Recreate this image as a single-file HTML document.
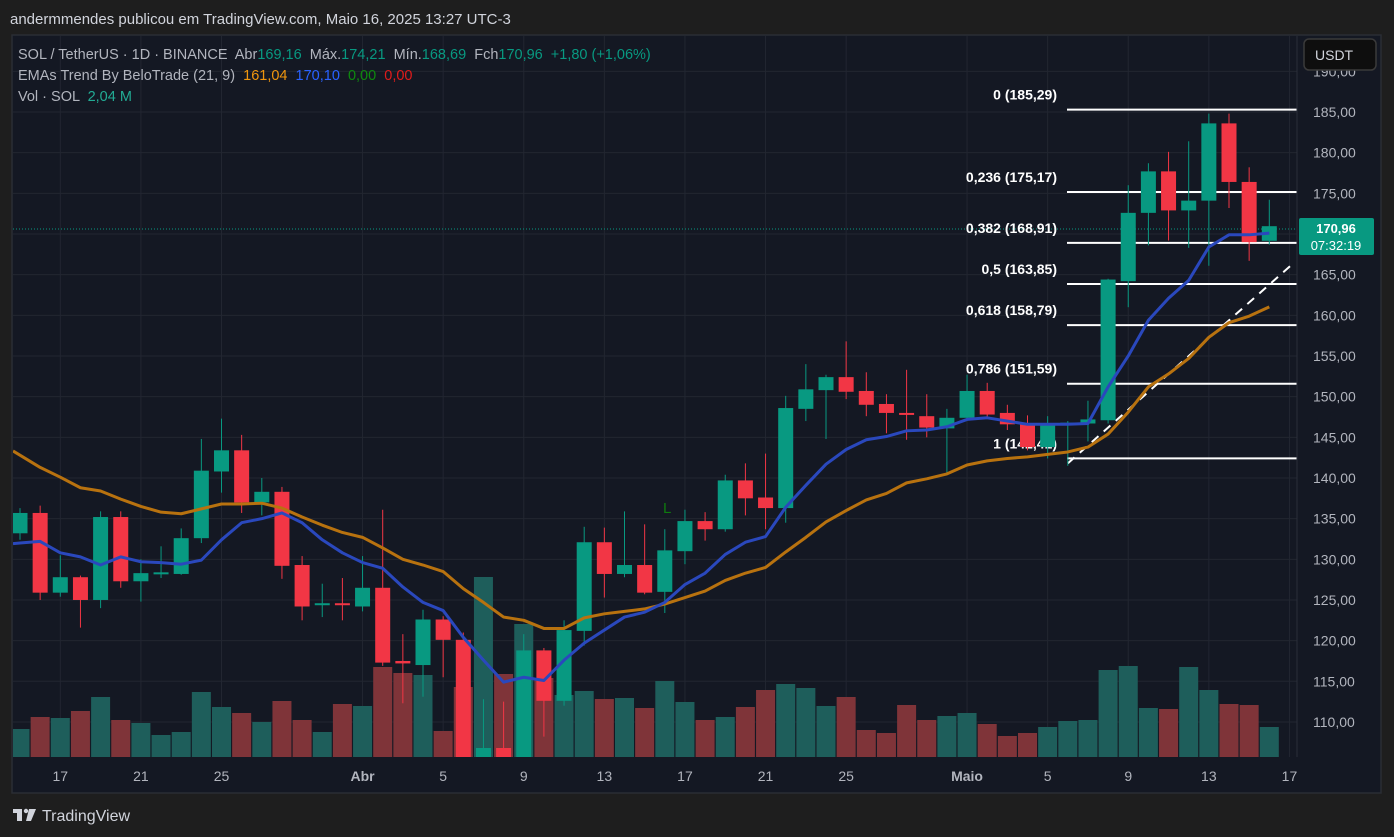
<!DOCTYPE html>
<html><head><meta charset="utf-8">
<style>
html,body{margin:0;padding:0;background:#1e1e1e;width:1394px;height:837px;overflow:hidden;font-family:"Liberation Sans",sans-serif;}
svg text{font-family:"Liberation Sans",sans-serif;white-space:pre;}
</style></head>
<body>
<svg id="chart" width="1394" height="837" xmlns="http://www.w3.org/2000/svg">
  <rect x="0" y="0" width="1394" height="837" fill="#1e1e1e"/>
  <text x="10" y="24" fill="#d1d4dc" font-size="15">andermmendes publicou em TradingView.com, Maio 16, 2025 13:27 UTC-3</text>
  <rect x="12" y="35" width="1369" height="758" fill="#141823" stroke="#2a2d34" stroke-width="1.5"/>
  <g id="grid"></g>
  <defs><clipPath id="plotclip"><rect x="13" y="37" width="1284" height="720"/></clipPath></defs>
  <g clip-path="url(#plotclip)">
    <g id="vol"></g>
    <line x1="13" x2="1297" y1="229" y2="229" stroke="#089981" stroke-width="1" stroke-dasharray="1,2"/>
    <g id="fib"></g>
    <g id="candles"></g>
    <g id="ema"></g>
  </g>
  <line x1="1297" y1="36" x2="1297" y2="757" stroke="#2a2e39"/>
  <g id="yaxis"></g>
  <g id="xaxis"></g>
  <rect x="1299" y="218" width="75" height="37" rx="2" fill="#089981"/>
  <text x="1336" y="233" fill="#ffffff" font-size="13" font-weight="bold" text-anchor="middle">170,96</text>
  <text x="1336" y="250" fill="#ffffff" font-size="13" text-anchor="middle">07:32:19</text>
  <rect x="1304" y="39" width="72" height="31" rx="5" fill="#0e0e0e" stroke="#3a3a3a" stroke-width="1.5"/>
  <text x="1315" y="60" fill="#d1d4dc" font-size="14">USDT</text>
  <text x="18" y="59" font-size="14.5"><tspan fill="#b2b5be">SOL / TetherUS · 1D · BINANCE  Abr</tspan><tspan fill="#089981">169,16</tspan><tspan fill="#b2b5be">  Máx.</tspan><tspan fill="#089981">174,21</tspan><tspan fill="#b2b5be">  Mín.</tspan><tspan fill="#089981">168,69</tspan><tspan fill="#b2b5be">  Fch</tspan><tspan fill="#089981">170,96  +1,80 (+1,06%)</tspan></text>
  <text x="18" y="80" font-size="14.5"><tspan fill="#b2b5be">EMAs Trend By BeloTrade (21, 9)  </tspan><tspan fill="#f0960e">161,04  </tspan><tspan fill="#2962ff">170,10  </tspan><tspan fill="#0e8a0e">0,00  </tspan><tspan fill="#e01b1b">0,00</tspan></text>
  <text x="18" y="101" font-size="14.5"><tspan fill="#b2b5be">Vol · SOL  </tspan><tspan fill="#22ab94">2,04 M</tspan></text>
  <text x="663" y="513" fill="#0e7a0e" font-size="15">L</text>
  <g>
    <rect x="13" y="809" width="9" height="4" fill="#d1d4dc"/><rect x="17" y="809" width="5" height="12" fill="#d1d4dc"/>
    <circle cx="26" cy="811" r="2.2" fill="#d1d4dc"/><polygon points="29,809 36,809 31,821 26,821" fill="#d1d4dc"/>
    <text x="42" y="821" fill="#d1d4dc" font-size="16">TradingView</text>
  </g>
</svg>
<script>
const opens  = [133.2,135.7,125.9,127.8,125.0,135.2,127.3,128.3,128.2,132.6,140.8,143.4,137.0,138.3,129.3,124.4,124.6,124.2,126.5,117.5,117.0,122.6,120.1,104.0,106.8,104.0,118.8,112.6,121.2,132.1,128.2,129.3,126.0,131.0,134.7,133.7,139.7,137.6,136.3,148.5,150.8,152.4,150.7,149.1,148.0,147.6,146.1,147.4,150.7,148.0,146.6,143.8,146.5,146.7,147.1,164.2,172.6,177.7,172.9,174.1,183.6,176.4,169.16];
const highs  = [136.3,136.6,130.5,128.0,135.9,135.9,130.0,131.6,133.8,144.8,147.3,145.3,140.0,138.9,130.4,127.0,127.7,130.4,136.1,120.8,123.8,123.0,121.0,112.8,112.5,120.8,119.1,122.5,134.0,133.9,135.9,134.3,133.7,136.1,135.8,140.4,141.8,143.0,150.1,154.0,152.7,156.8,153.0,150.3,153.3,150.3,148.5,152.7,151.7,149.0,147.7,147.6,147.0,149.5,164.5,176.0,178.7,180.1,181.4,184.8,184.8,178.2,174.21];
const lows   = [132.4,125.0,125.4,121.6,124.0,126.5,124.8,127.7,128.1,132.0,138.2,135.7,135.4,127.6,122.5,122.9,122.5,123.6,116.9,112.3,113.1,115.5,95.0,95.0,96.0,95.0,108.2,112.0,119.4,125.3,127.8,125.7,123.4,129.4,132.3,133.4,135.4,133.7,134.5,147.0,144.8,149.7,147.6,145.5,144.7,145.0,140.5,147.0,147.3,145.9,143.4,142.4,141.5,144.5,146.7,161.0,168.6,169.2,168.3,166.1,173.2,166.7,168.69];
const closes = [135.7,125.9,127.8,125.0,135.2,127.3,128.3,128.4,132.6,140.9,143.4,137.0,138.3,129.2,124.2,124.6,124.4,126.5,117.3,117.2,122.6,120.1,105.5,106.8,104.0,118.8,112.6,121.3,132.1,128.2,129.3,125.9,131.1,134.7,133.7,139.7,137.5,136.3,148.6,150.9,152.4,150.6,149.0,148.0,147.8,146.2,147.4,150.7,147.8,146.6,143.8,146.6,146.8,147.2,164.4,172.6,177.7,172.9,174.1,183.6,176.4,169.0,170.96];
const volumes = [28,40,39,46,60,37,34,22,25,65,50,44,35,56,37,25,53,51,90,84,82,26,70,180,83,133,79,62,66,58,59,49,76,55,37,40,50,67,73,69,51,60,27,24,52,37,41,44,33,21,24,30,36,37,87,91,49,48,90,67,53,52,30];
const ema9  = [132.0,132.2,130.8,130.3,129.3,130.3,129.7,129.6,129.4,129.9,132.4,134.5,135.0,135.7,134.5,132.4,130.8,129.6,128.9,126.6,124.7,123.7,120.4,117.6,114.9,115.5,115.1,117.6,119.7,121.3,122.9,123.5,124.7,126.9,128.3,130.6,132.1,132.8,136.4,139.1,141.7,143.5,144.7,145.1,145.8,145.9,146.3,147.2,147.4,147.0,146.6,146.6,146.6,146.7,151.2,155.0,159.4,162.1,164.3,168.4,169.9,169.9,170.1];
const ema21 = [142.8,141.3,140.1,138.8,138.4,137.4,136.5,135.8,135.6,136.2,136.8,136.8,136.9,136.3,135.2,134.2,133.3,132.7,131.4,130.0,129.3,128.5,126.4,124.7,122.9,122.5,121.5,121.5,122.8,123.3,123.6,123.9,124.5,125.3,126.1,127.4,128.3,129.0,130.9,132.7,134.6,136.0,137.3,138.1,139.4,139.9,140.5,141.6,142.1,142.4,142.6,142.9,143.2,143.8,145.4,148.1,151.2,152.8,154.7,157.3,159.1,159.9,161.04];
const priceTicks = [190,185,180,175,170,165,160,155,150,145,140,135,130,125,120,115,110];
const priceTickLabels = ["190,00","185,00","180,00","175,00","","165,00","160,00","155,00","150,00","145,00","140,00","135,00","130,00","125,00","120,00","115,00","110,00"];
const dateTickIdx = [2,6,10,17,21,25,29,33,37,41,47,51,55,59,63];
const dateTickLabels = ["17","21","25","Abr","5","9","13","17","21","25","Maio","5","9","13","17"];
const fibRatios = ["0","0,236","0,382","0,5","0,618","0,786","1"];
const fibPrices = [185.29,175.17,168.91,163.85,158.79,151.59,142.41];
const fibLabels = ["(185,29)","(175,17)","(168,91)","(163,85)","(158,79)","(151,59)","(142,41)"];
const trendStart = [52.0,141.8];
const trendEnd = [63.1,166.2];

const NS="http://www.w3.org/2000/svg";
const X0=20, DX=20.15, Y185=112, PPU=8.133, VBASE=757;
function xs(i){return X0+i*DX;}
function ys(p){return Y185+(185-p)*PPU;}
function mk(tag,attrs,parent){const e=document.createElementNS(NS,tag);for(const k in attrs)e.setAttribute(k,attrs[k]);parent.appendChild(e);return e;}
const G=id=>document.getElementById(id);

const grid=G('grid');
priceTicks.forEach((p,k)=>{const l=mk('line',{x1:13,x2:1297,y1:ys(p),y2:ys(p),stroke:'#222631','stroke-width':1},grid);

});
dateTickIdx.forEach(i=>{const l=mk('line',{x1:xs(i),x2:xs(i),y1:36,y2:757,stroke:'#222631','stroke-width':1},grid);

});

const ya=G('yaxis');
priceTicks.forEach((p,k)=>{if(!priceTickLabels[k])return;const t=mk('text',{x:1313,y:ys(p)+5,fill:'#b2b5be','font-size':14},ya);t.textContent=priceTickLabels[k];

});
const xa=G('xaxis');
dateTickIdx.forEach((i,k)=>{const bold=dateTickLabels[k]==='Abr'||dateTickLabels[k]==='Maio';const t=mk('text',{x:xs(i),y:781,fill:'#b2b5be','font-size':14,'text-anchor':'middle','font-weight':bold?'bold':'normal'},xa);t.textContent=dateTickLabels[k];

});

const vg=G('vol');const VPX=1;
volumes.forEach((v,i)=>{const up=closes[i]>=opens[i];const h=v*VPX;const r=mk('rect',{x:xs(i)-9.5,y:VBASE-h,width:19,height:h,fill:up?'#1e5e5b':'#7f3439'},vg);

});

const cg=G('candles');
opens.forEach((o,i)=>{const c=closes[i];const up=c>=o;const col=up?'#089981':'#f23645';const x=xs(i);
const w=mk('line',{x1:x,x2:x,y1:ys(highs[i]),y2:ys(lows[i]),stroke:col,'stroke-width':1},cg);


const top=ys(Math.max(o,c));const h=Math.max(2,Math.abs(ys(o)-ys(c)));
const b=mk('rect',{x:x-7.5,y:top,width:15,height:h,fill:col},cg);

});

const fg=G('fib');
fibPrices.forEach((p,k)=>{const l=mk('line',{x1:1067,x2:1297,y1:ys(p),y2:ys(p),stroke:'#ffffff','stroke-width':2},fg);


const t=mk('text',{x:1057,y:ys(p)-10,fill:'#ffffff','font-size':14,'font-weight':'bold','text-anchor':'end'},fg);t.textContent=fibRatios[k]+' '+fibLabels[k];

});
const tl=mk('line',{x1:xs(trendStart[0]),y1:ys(trendStart[1]),x2:xs(trendEnd[0]),y2:ys(trendEnd[1]),stroke:'#ffffff','stroke-width':2,'stroke-dasharray':'9,7'},fg);



const eg=G('ema');
function poly(arr,col,name){const pts=arr.map((v,i)=>xs(i)+','+ys(v));pts.unshift('13,'+ys(arr[0]+ (arr[0]-arr[1])*0.35));
const p=mk('polyline',{points:pts.join(' '),fill:'none',stroke:col,'stroke-width':3,'stroke-linejoin':'round'},eg);

}
poly(ema21,'#b8720f','ema-21-line');
poly(ema9,'#2a48bd','ema-9-line');
</script>
</body></html>
